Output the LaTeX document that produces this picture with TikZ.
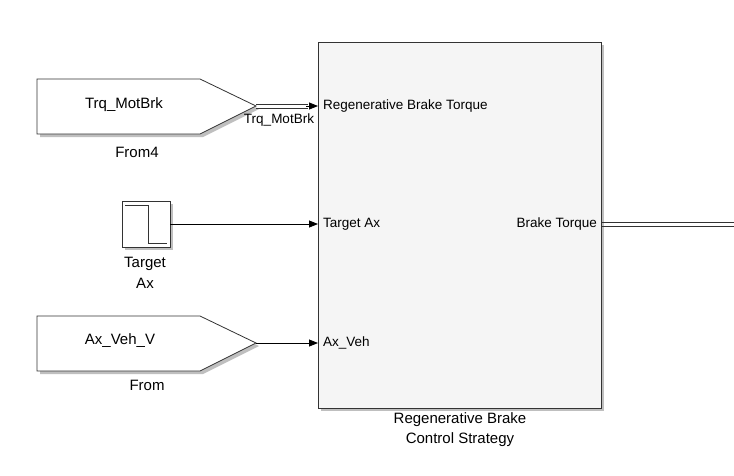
\documentclass[tikz,border=0pt]{standalone}
\usepackage{fontspec}
\setmainfont{Liberation Sans}
\usetikzlibrary{calc,positioning,arrows.meta}

\begin{document}
\begin{tikzpicture}[x=1pt, y=-1pt]

\tikzset{
block/.style={draw=black!80,line width=0.8pt},
shade/.style={fill=black!25,draw=none},
sig/.style={-{Triangle[length=9pt,width=7pt]},line width=0.8pt},
busline/.style={line width=0.9pt,black!80},
lab/.style={font=\fontsize{15}{17}\selectfont,inner sep=0pt},
port/.style={font=\fontsize{13.5}{15}\selectfont,inner sep=0pt}
}

\useasboundingbox (0,0) rectangle (734,475);

% Main block
\fill[shade] (321,45) rectangle (604,411);
\filldraw[block,fill=black!4] (318,42) rectangle (601,408);
\coordinate (in1) at (318,106);
\coordinate (in2) at (318,224);
\coordinate (in3) at (318,343);
\coordinate (out1) at (601,224);
\coordinate (outend) at (734,224);

% From blocks
\fill[shade] (40,82) -- (203,82) -- (259,109) -- (203,137) -- (40,137) -- cycle;
\filldraw[block,fill=white] (37,79) -- (200,79) -- (256,106) -- (200,134) -- (37,134) -- cycle;
\coordinate (from4) at (256,106);

\fill[shade] (40,319) -- (203,319) -- (259,346) -- (203,374) -- (40,374) -- cycle;
\filldraw[block,fill=white] (37,316) -- (200,316) -- (256,343) -- (200,371) -- (37,371) -- cycle;
\coordinate (from) at (256,343);

% Step block
\fill[shade] (125,204) rectangle (173,250);
\filldraw[block,fill=white] (122,201) rectangle (170,247);
\draw[black!80,line width=0.7pt] (125,205) -- (148,205) -- (148,243) -- (167,243);
\coordinate (step) at (170,224);

% Connectors
\draw[busline] ($(from4)+(0,-2)$) -- ($(in1)+(-10,-2)$);
\draw[busline] ($(from4)+(0,2)$) -- ($(in1)+(-10,2)$);
\draw[sig] ($(in1)+(-12,0)$) -- (in1);
\draw[sig] (step) -- (in2);
\draw[sig] (from) -- (in3);
\draw[busline] ($(out1)+(0,-2)$) -- ($(outend)+(0,-2)$);
\draw[busline] ($(out1)+(0,2)$) -- ($(outend)+(0,2)$);

% Labels
\node[lab] at (124,105) {Trq\_MotBrk};
\node[lab] at (137,152) {From4};
\node[lab] at (145,264) {Target};
\node[lab] at (145,283) {Ax};
\node[lab] at (120,341) {Ax\_Veh\_V};
\node[lab] at (147,385) {From};
\node[lab] at (460,420) {Regenerative Brake};
\node[lab] at (460,440) {Control Strategy};

\node[port,anchor=west] at (323,106) {Regenerative Brake Torque};
\node[port,anchor=west] at (323,224) {Target Ax};
\node[port,anchor=west] at (323,343) {Ax\_Veh};
\node[port,anchor=east] at (597,224) {Brake Torque};
\node[port] at (279,120) {Trq\_MotBrk};

\end{tikzpicture}
\end{document}
